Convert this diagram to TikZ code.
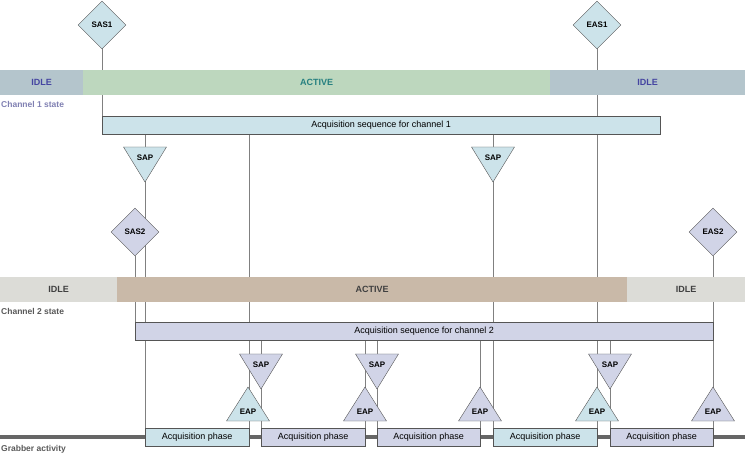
\documentclass[tikz,border=0pt]{standalone}
\usepackage{fontspec}
\setmainfont{Liberation Sans}
\usetikzlibrary{shapes.geometric}
\definecolor{cblue}{HTML}{CCE3EA}
\definecolor{clav}{HTML}{D1D4E7}
\definecolor{idleA}{HTML}{B4C5CC}
\definecolor{actA}{HTML}{BDD7BE}
\definecolor{idleB}{HTML}{DCDCD7}
\definecolor{actB}{HTML}{C9B9A8}
\definecolor{bord}{HTML}{555555}
\definecolor{lin}{HTML}{808080}
\tikzset{
 dia/.style={diamond,draw=bord,minimum width=48pt,minimum height=48pt,inner sep=0pt,font=\bfseries\fontsize{8}{9}\selectfont},
 bar/.style={draw=bord,minimum height=18pt,inner sep=0pt,font=\fontsize{9}{10}\selectfont,anchor=north west},
 st/.style={minimum height=25pt,inner sep=0pt,anchor=north west,font=\bfseries\fontsize{9}{10}\selectfont},
 lab/.style={font=\bfseries\fontsize{8}{9}\selectfont,inner sep=0pt},
 tri/.style={draw=bord},
 vl/.style={draw=lin,line width=0.6pt},
 ph/.style={draw=bord,fill=#1,minimum height=18pt,inner sep=0pt,anchor=north west,font=\fontsize{9}{10}\selectfont},
}
\newcommand{\mysap}[4]{% name x ytop fill
 \fill[#4] (#2-21.5,#3)--(#2+21.5,#3)--(#2,#3+35)--cycle;
 \draw[tri] (#2-21.5,#3)--(#2+21.5,#3)--(#2,#3+35)--cycle;
 \node[lab] (#1) at (#2,#3+11) {SAP};}
\newcommand{\myeap}[3]{% name x fill
 \fill[#3] (#2-21.5,421)--(#2+21.5,421)--(#2,387)--cycle;
 \draw[tri] (#2-21.5,421)--(#2+21.5,421)--(#2,387)--cycle;
 \node[lab] (#1) at (#2,412) {EAP};}
\begin{document}
\begin{tikzpicture}[x=1pt,y=-1pt]
\useasboundingbox (0,0) rectangle (745,457);
% coordinates for connectors
\foreach \n/\x/\y in {a1/102/48,a2/102/116,b1/145/134,b2/145/428,c1/249/134,c2/249/428,
 d1/493/134,d2/493/428,e1/597/48,e2/597/428,f1/135/256,f2/135/322,
 g1/261/340,g2/261/428,h1/365/340,h2/365/428,i1/377/340,i2/377/428,
 j1/480/340,j2/480/428,k1/610/340,k2/610/428,l1/713/256,l2/713/428,m1/0/437,m2/745/437}
 \coordinate (\n) at (\x,\y);
\draw[vl] (a1)--(a2); \draw[vl] (b1)--(b2); \draw[vl] (c1)--(c2);
\draw[vl] (d1)--(d2); \draw[vl] (e1)--(e2); \draw[vl] (f1)--(f2);
\draw[vl] (g1)--(g2); \draw[vl] (h1)--(h2); \draw[vl] (i1)--(i2);
\draw[vl] (j1)--(j2); \draw[vl] (k1)--(k2); \draw[vl] (l1)--(l2);
\draw[line width=3.5pt,color=black!60] (m1)--(m2);
% channel 1
\node[dia,fill=cblue] (sas1) at (102,25) {SAS1};
\node[dia,fill=cblue] (eas1) at (597,25) {EAS1};
\node[st,fill=idleA,text=blue!40!gray!90!black,minimum width=83pt] (i1a) at (0,70) {IDLE};
\node[st,fill=actA,text=teal!70!gray,minimum width=467pt] (a1a) at (83,70) {ACTIVE};
\node[st,fill=idleA,text=blue!40!gray!90!black,minimum width=195pt] (i1b) at (550,70) {IDLE};
\node[anchor=west,inner sep=0pt,font=\bfseries\fontsize{8.5}{9}\selectfont,text=blue!25!gray!80] (c1s) at (1,104) {Channel 1 state};
\node[bar,fill=cblue,minimum width=558pt] (seq1) at (102,116) {Acquisition sequence for channel 1};
\mysap{sap1}{145}{147}{cblue}
\mysap{sap2}{493}{147}{cblue}
% channel 2
\node[dia,fill=clav] (sas2) at (135,232) {SAS2};
\node[dia,fill=clav] (eas2) at (713,232) {EAS2};
\node[st,fill=idleB,text=black!75,minimum width=117pt] (i2a) at (0,277) {IDLE};
\node[st,fill=actB,text=black!75,minimum width=510pt] (a2a) at (117,277) {ACTIVE};
\node[st,fill=idleB,text=black!75,minimum width=118pt] (i2b) at (627,277) {IDLE};
\node[anchor=west,inner sep=0pt,font=\bfseries\fontsize{8.5}{9}\selectfont,text=black!65] (c2s) at (1,311) {Channel 2 state};
\node[bar,fill=clav,minimum width=578pt] (seq2) at (135,322) {Acquisition sequence for channel 2};
\mysap{sap3}{261}{354}{clav}
\mysap{sap4}{377}{354}{clav}
\mysap{sap5}{610}{354}{clav}
\myeap{eap1}{248}{cblue}
\myeap{eap2}{365}{clav}
\myeap{eap3}{480}{clav}
\myeap{eap4}{597}{cblue}
\myeap{eap5}{713}{clav}
% grabber
\node[ph=cblue,minimum width=104pt] (p1) at (145,428) {Acquisition phase};
\node[ph=clav,minimum width=104pt] (p2) at (261,428) {Acquisition phase};
\node[ph=clav,minimum width=103pt] (p3) at (377,428) {Acquisition phase};
\node[ph=cblue,minimum width=104pt] (p4) at (493,428) {Acquisition phase};
\node[ph=clav,minimum width=103pt] (p5) at (610,428) {Acquisition phase};
\node[anchor=west,inner sep=0pt,font=\bfseries\fontsize{8.5}{9}\selectfont,text=black!65] (ga) at (1,449) {Grabber activity};
\end{tikzpicture}
\end{document}
